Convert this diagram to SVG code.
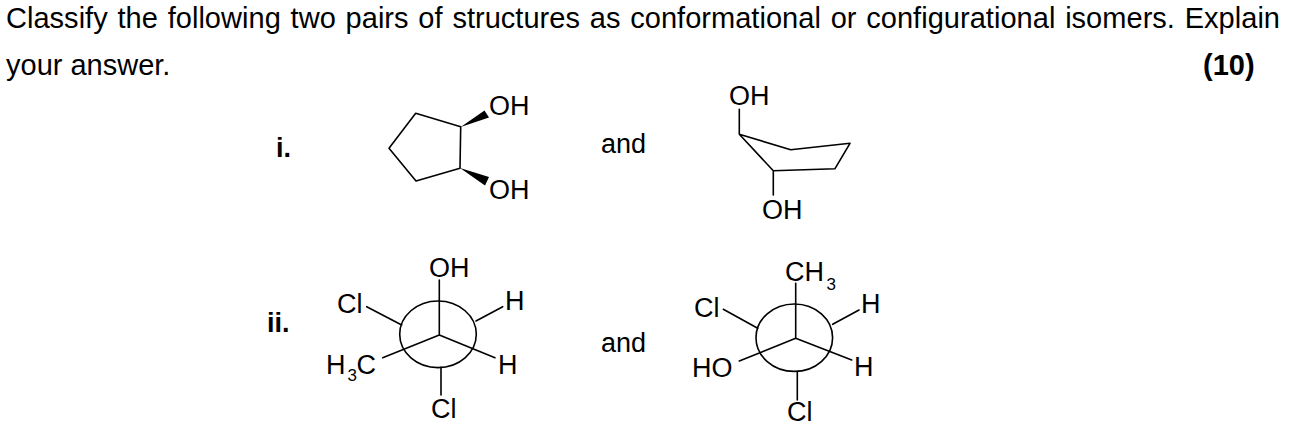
<svg xmlns="http://www.w3.org/2000/svg" width="1300" height="430" viewBox="0 0 1300 430">
<style>
text{font-family:"Liberation Sans",Arial,sans-serif;fill:#000}
.t{font-size:29px}
.a{font-size:27px}
.b{font-size:29px;font-weight:bold}
.r{font-size:27px;font-weight:bold}
.l{font-size:27px}
.s{font-size:17px}
.c{fill:none;stroke:#000;stroke-width:1.6;stroke-linejoin:round;stroke-linecap:round}
</style>
<rect width="1300" height="430" fill="#fff"/>
<g id="question">
<text class="t" x="6" y="27.5" textLength="1274" lengthAdjust="spacing" style="word-spacing:1.7px">Classify the following two pairs of structures as conformational or configurational isomers. Explain</text>
<text class="t" x="6" y="75">your answer.</text>
<text class="b" x="1203" y="75">(10)</text>
<text class="r" x="276" y="157">i.</text>
<text class="r" x="267" y="332">ii.</text>
<text class="a" x="601" y="153">and</text>
<text class="a" x="601" y="352">and</text>
</g>
<g id="connectors">
<path class="c" d="M460.7 126.7L415.7 113.3L389 148.3L416 181L460 168.3Z"/>
<path d="M460.7 127L484.5 110.5L489 117.5Z M460 168L489 177L485 185.5Z" fill="#000"/>
<path class="c" d="M739.3 109.3V134.3L790.7 149.7L850 143.3L835 168.7L773.3 170.7L739.3 134.3M773.3 170.7V195"/>
<path class="c" d="M439.3 280V335L382.7 357.7M439.3 335L495 357.7M366.7 306.7L401.7 325M476 321L502.7 306.7M441 367.3V395"/>
<ellipse class="c" cx="438" cy="334.3" rx="38.3" ry="33.3"/>
<path class="c" d="M795.7 283.3V338.3L739.3 361M795.7 338.3L851.7 360M723.3 309.3L757.7 328.3M832.7 324.3L859 310M797.3 371.7V400"/>
<ellipse class="c" cx="794.3" cy="337.7" rx="38.3" ry="33.7"/>
</g>
<g id="node-cis-diol-flat">
<text class="l" x="489" y="114.5">OH</text>
<text class="l" x="489" y="198.5">OH</text>
</g>
<g id="node-chair">
<text class="l" x="729" y="105">OH</text>
<text class="l" x="762" y="218.5">OH</text>
</g>
<g id="node-newman-1">
<text class="l" x="429" y="277">OH</text>
<text class="l" x="337" y="312.5">Cl</text>
<text class="l" x="505" y="310">H</text>
<text class="l" x="326" y="374">H</text>
<text class="s" x="347.5" y="381">3</text>
<text class="l" x="356.5" y="374">C</text>
<text class="l" x="498" y="373.5">H</text>
<text class="l" x="431" y="418">Cl</text>
</g>
<g id="node-newman-2">
<text class="l" x="785" y="281">CH</text>
<text class="s" x="826.5" y="290">3</text>
<text class="l" x="694" y="316.5">Cl</text>
<text class="l" x="861" y="312.5">H</text>
<text class="l" x="692" y="376.5">HO</text>
<text class="l" x="854" y="376">H</text>
<text class="l" x="787" y="421">Cl</text>
</g>
</svg>
